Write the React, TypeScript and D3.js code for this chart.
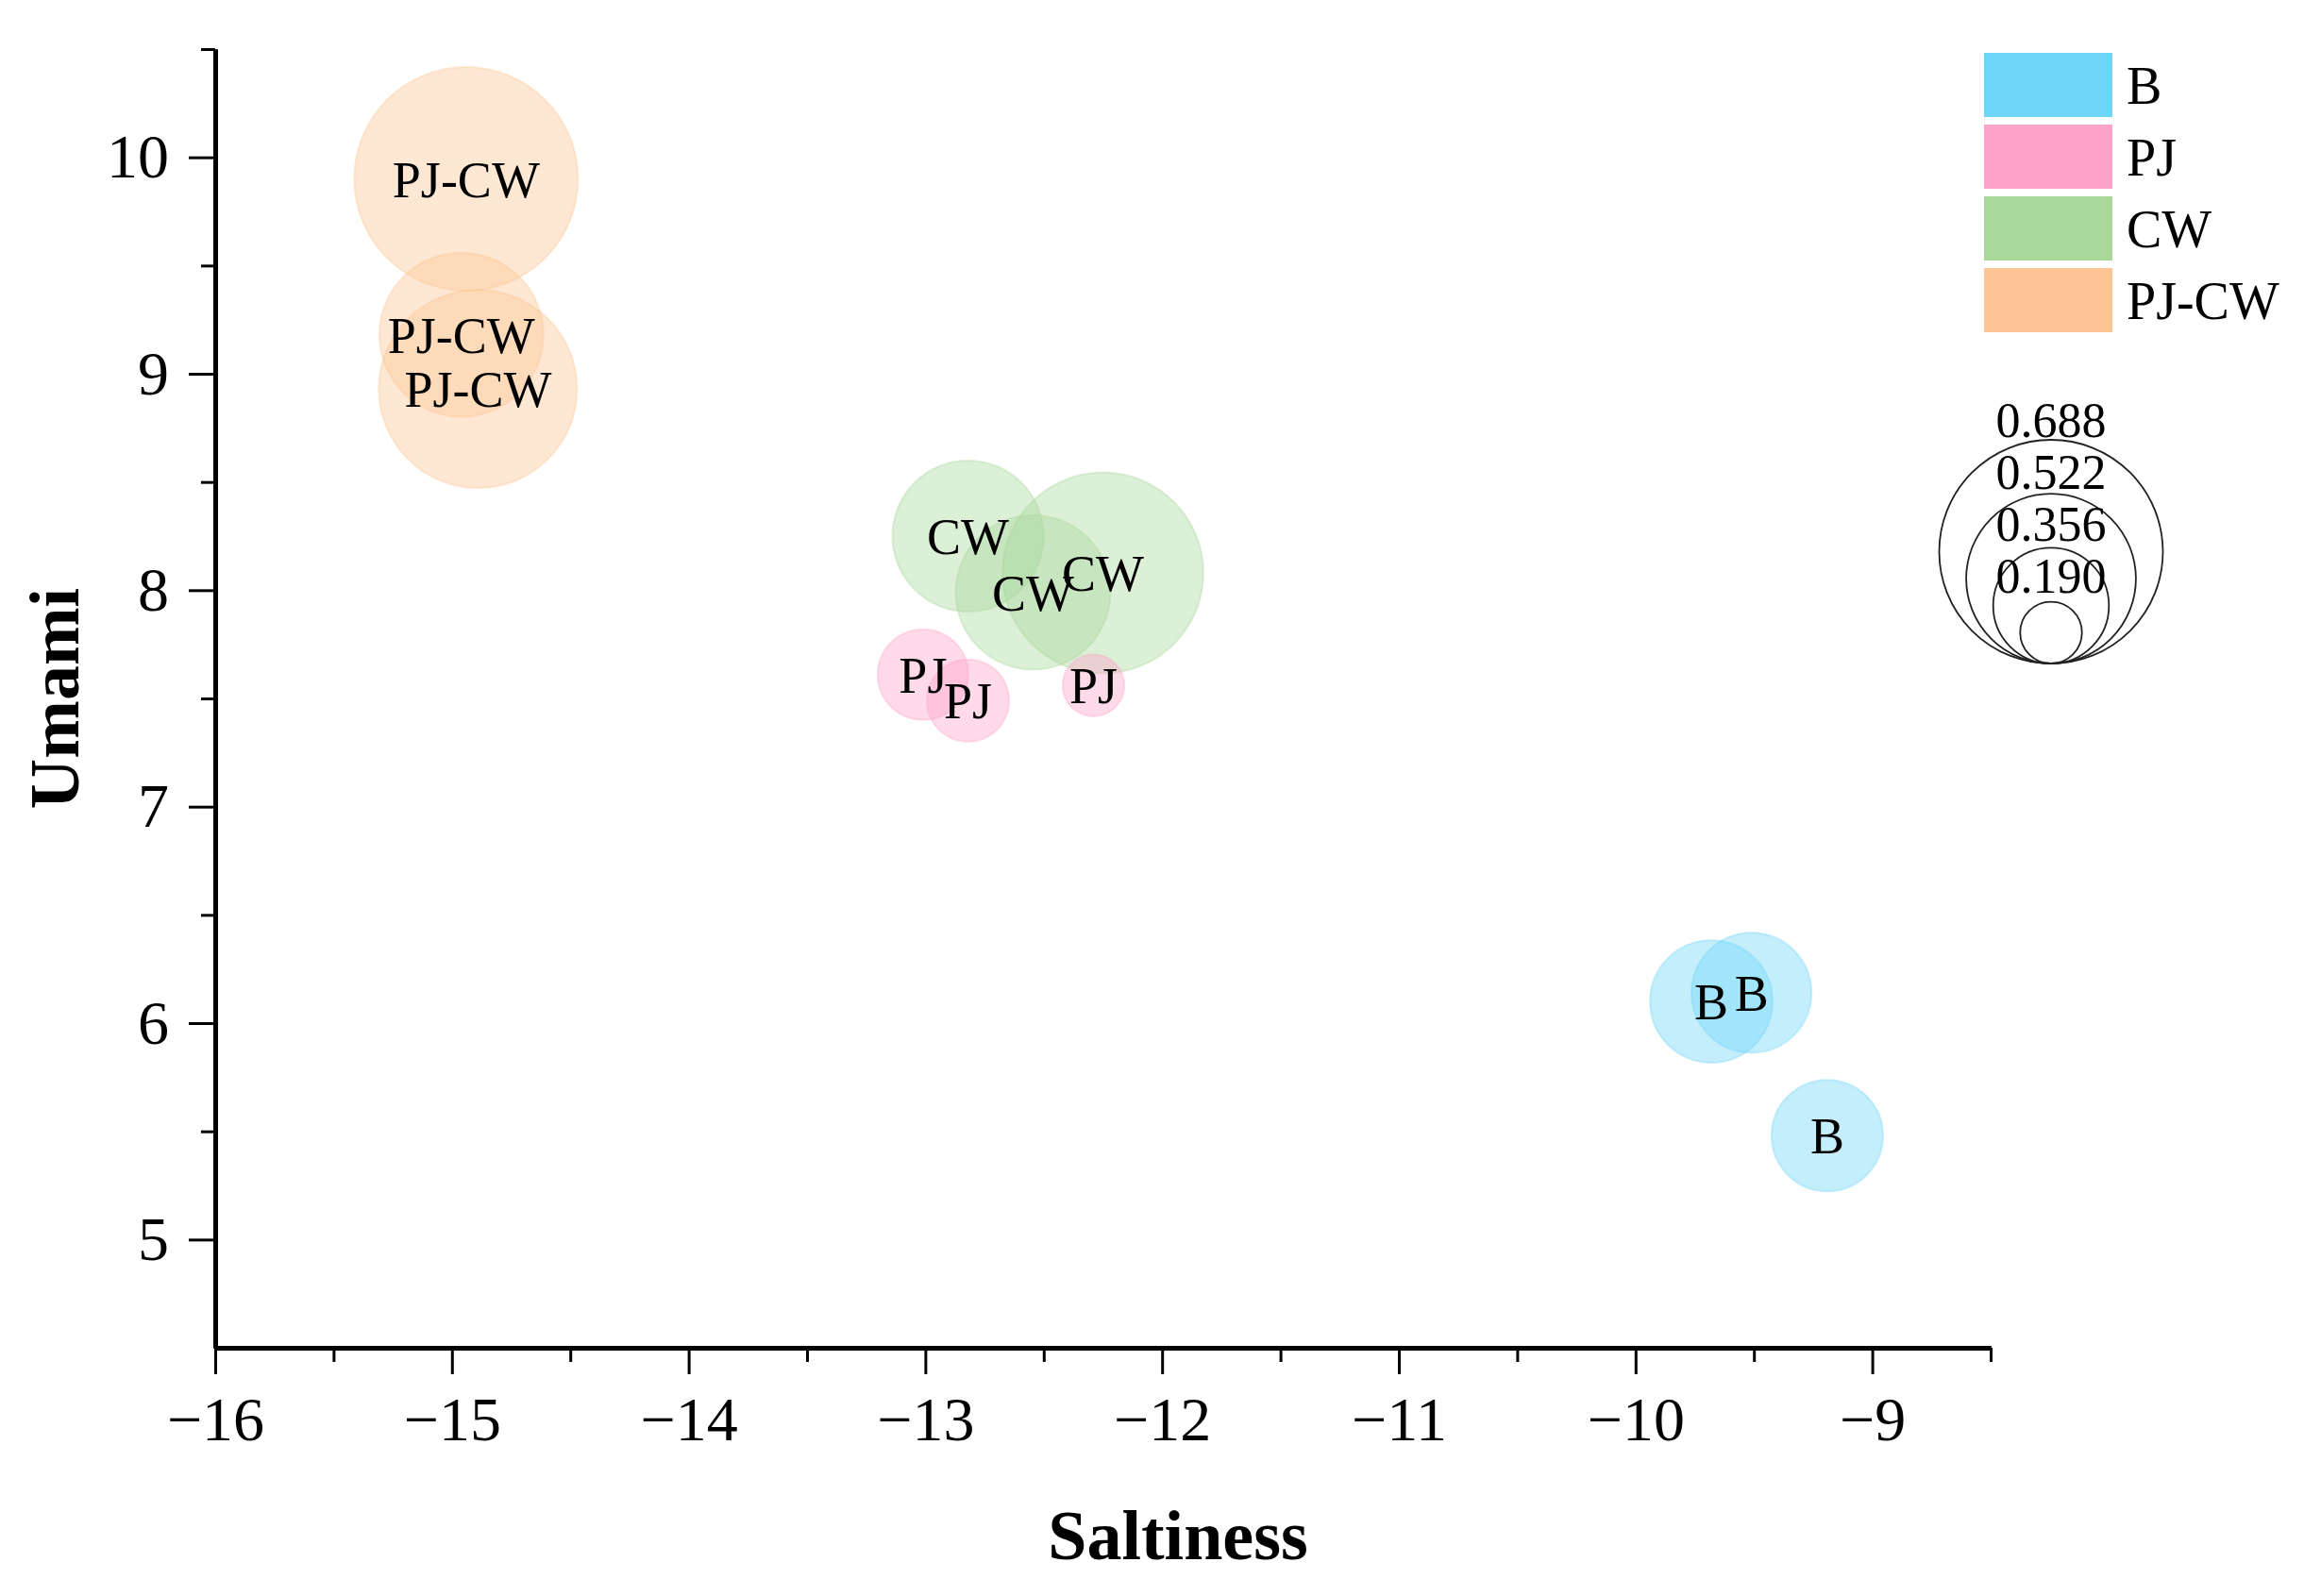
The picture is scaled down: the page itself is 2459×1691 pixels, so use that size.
import React, { useRef, useEffect } from "react";
import * as d3 from "d3";

interface Sample {
    group: string;
    saltiness: number;
    umami: number;
    size: number;
}

const groups = ["B", "PJ", "CW", "PJ-CW"];
const groupColors = ["#6dd5f7", "#ffa3c8", "#a8d89a", "#fcc593"];

const bSalt = [-9.68, -9.51, -9.19];
const bUmami = [6.10, 6.14, 5.48];
const bSize = [0.377, 0.369, 0.343];

const pjSalt = [-13.01, -12.82, -12.29];
const pjUmami = [7.61, 7.49, 7.56];
const pjSize = [0.279, 0.253, 0.190];

const cwSalt = [-12.82, -12.545, -12.25];
const cwUmami = [8.25, 7.99, 8.08];
const cwSize = [0.465, 0.476, 0.618];

const pjcwSalt = [-14.94, -14.96, -14.89];
const pjcwUmami = [9.90, 9.18, 8.93];
const pjcwSize = [0.688, 0.505, 0.610];

const xMajorTicks = [-16, -15, -14, -13, -12, -11, -10, -9];
const xMinorTicks = [-15.5, -14.5, -13.5, -12.5, -11.5, -10.5, -9.5, -8.5];
const yMajorTicks = [5, 6, 7, 8, 9, 10];
const yMinorTicks = [5.5, 6.5, 7.5, 8.5, 9.5, 10.5];
const sizeLegendValues = [0.688, 0.522, 0.356, 0.190];

const toSamples = (group: string, salt: number[], umami: number[], size: number[]): Sample[] =>
    salt.map((s, i) => ({ group, saltiness: s, umami: umami[i], size: size[i] }));

const samples: Sample[] = [
    ...toSamples("PJ-CW", pjcwSalt, pjcwUmami, pjcwSize),
    ...toSamples("CW", cwSalt, cwUmami, cwSize),
    ...toSamples("PJ", pjSalt, pjUmami, pjSize),
    ...toSamples("B", bSalt, bUmami, bSize),
];

const FONT = "'Liberation Serif', 'Times New Roman', serif";

const BubbleChart: React.FC = () => {
    const svgRef = useRef<SVGSVGElement>(null);

    useEffect(() => {
        if (!svgRef.current) return;
        const svg = d3.select(svgRef.current);
        svg.selectAll("*").remove();

        const left = 228, right = 2109, top = 52, bottom = 1428;

        const x = d3.scaleLinear().domain([-16, -8.5]).range([left, right]);
        const y = d3.scaleLinear().domain([4.5, 10.5]).range([bottom, top]);
        const r = d3.scaleLinear().domain([0, 0.688]).range([0, 118.5]);
        const color = d3.scaleOrdinal<string>().domain(groups).range(groupColors);

        // Bubbles
        svg.append("g")
            .selectAll("circle")
            .data(samples)
            .enter()
            .append("circle")
            .attr("cx", d => x(d.saltiness))
            .attr("cy", d => y(d.umami))
            .attr("r", d => r(d.size))
            .attr("fill", d => color(d.group))
            .attr("fill-opacity", 0.4)
            .attr("stroke", d => color(d.group))
            .attr("stroke-opacity", 0.35)
            .attr("stroke-width", 2);

        // Bubble labels
        svg.append("g")
            .selectAll("text")
            .data(samples)
            .enter()
            .append("text")
            .attr("x", d => x(d.saltiness))
            .attr("y", d => y(d.umami))
            .attr("dy", "0.35em")
            .attr("text-anchor", "middle")
            .style("font-family", FONT)
            .style("font-size", "54px")
            .style("fill", "#000")
            .text(d => d.group);

        // X axis (minor ticks, then major ticks with labels)
        const xAxis = svg.append("g").attr("transform", `translate(0,${bottom})`);
        xAxis.call(d3.axisBottom(x).tickValues(xMinorTicks).tickSize(15).tickSizeOuter(0).tickFormat(() => ""));
        const xAxisMajor = svg.append("g").attr("transform", `translate(0,${bottom})`);
        xAxisMajor.call(d3.axisBottom(x).tickValues(xMajorTicks).tickSize(28).tickSizeOuter(0).tickPadding(23).tickFormat(d3.format("d")));

        // Y axis
        const yAxis = svg.append("g").attr("transform", `translate(${left},0)`);
        yAxis.call(d3.axisLeft(y).tickValues(yMinorTicks).tickSize(15).tickSizeOuter(0).tickFormat(() => ""));
        const yAxisMajor = svg.append("g").attr("transform", `translate(${left},0)`);
        yAxisMajor.call(d3.axisLeft(y).tickValues(yMajorTicks).tickSize(28).tickSizeOuter(0).tickPadding(21).tickFormat(d3.format("d")));

        [xAxis, xAxisMajor, yAxis, yAxisMajor].forEach(g => {
            g.select(".domain").attr("stroke-width", 5);
            g.selectAll(".tick line").attr("stroke-width", 3);
            g.selectAll("text").style("font-family", FONT).style("font-size", "66px");
        });

        // Axis titles
        svg.append("text")
            .attr("x", 1248)
            .attr("y", 1652)
            .attr("text-anchor", "middle")
            .style("font-family", FONT)
            .style("font-weight", "bold")
            .style("font-size", "74px")
            .text("Saltiness");

        svg.append("text")
            .attr("transform", `translate(83,${(top + bottom) / 2}) rotate(-90)`)
            .attr("text-anchor", "middle")
            .style("font-family", FONT)
            .style("font-weight", "bold")
            .style("font-size", "74px")
            .text("Umami");

        // Colour legend
        const legend = svg.append("g").attr("transform", "translate(2102,56)");
        const rows = legend.selectAll("g")
            .data(groups)
            .enter()
            .append("g")
            .attr("transform", (_, i) => `translate(0,${i * 76})`);
        rows.append("rect")
            .attr("width", 136)
            .attr("height", 68)
            .attr("fill", d => color(d));
        rows.append("text")
            .attr("x", 151)
            .attr("y", 34)
            .attr("dy", "0.35em")
            .style("font-family", FONT)
            .style("font-size", "56px")
            .text(d => d);

        // Size legend
        const cx = 2173, baseY = 703;
        const sizeLegend = svg.append("g");
        sizeLegend.selectAll("circle")
            .data(sizeLegendValues)
            .enter()
            .append("circle")
            .attr("cx", cx)
            .attr("cy", d => baseY - r(d))
            .attr("r", d => r(d))
            .attr("fill", "none")
            .attr("stroke", "#222")
            .attr("stroke-width", 1.8);
        sizeLegend.selectAll("text")
            .data(sizeLegendValues)
            .enter()
            .append("text")
            .attr("x", cx)
            .attr("y", (_, i) => 463 + i * 55)
            .attr("text-anchor", "middle")
            .style("font-family", FONT)
            .style("font-size", "52px")
            .text(d => d.toFixed(3));
    }, []);

    return (
        <svg
            ref={svgRef}
            width={2459}
            height={1691}
            style={{ position: "absolute", left: 0, top: 0, background: "#fff" }}
        />
    );
};

export default function App() {
    return <BubbleChart />;
}
